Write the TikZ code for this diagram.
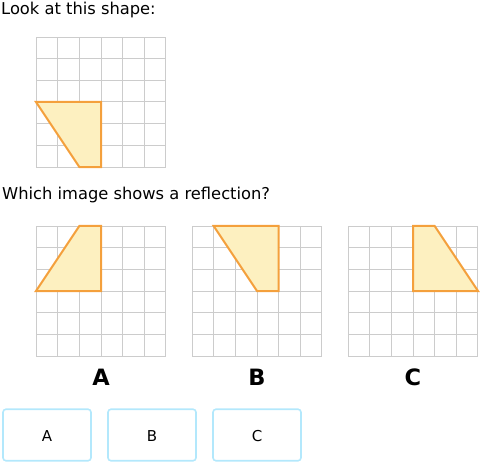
\documentclass[tikz,border=0pt]{standalone}
\usepackage{fontspec}
\setmainfont{DejaVu Sans}
\definecolor{gridc}{HTML}{CCCCCC}
\definecolor{shapeline}{HTML}{F4A03C}
\definecolor{shapefill}{HTML}{FDF0C0}
\definecolor{btnline}{HTML}{B3E8FC}
\tikzset{
  gridl/.style={draw=gridc, line width=1pt},
  shp/.style={draw=shapeline, fill=shapefill, line width=2pt, line join=miter},
  qtext/.style={anchor=base west, inner sep=0pt, font=\fontsize{16.3}{19}\selectfont},
  lbl/.style={anchor=base, inner sep=0pt, font=\fontsize{22.5}{26}\selectfont\bfseries},
  btn/.style={draw=btnline, line width=1.6pt, rounded corners=3pt, minimum width=88pt, minimum height=51.5pt, inner sep=0pt},
  btntext/.style={anchor=base, inner sep=0pt, font=\fontsize{15}{17}\selectfont}
}
\begin{document}
\begin{tikzpicture}[x=1pt,y=-1pt]
\useasboundingbox (0,0) rectangle (480,463);
\node[qtext] (q1) at (1,14) {Look at this shape:};
\node[qtext] (q2) at (2,199) {Which image shows a reflection?};
% original shape
\begin{scope}[shift={(36,167)}, x=21.667pt, y=21.667pt]
  \draw[gridl] (0,0) grid[step={(1,1)}] (6,6);
  \draw[shp] (0,3) -- (3,3) -- (3,0) -- (2,0) -- cycle;
\end{scope}
% A
\begin{scope}[shift={(36,356)}, x=21.667pt, y=21.667pt]
  \draw[gridl] (0,0) grid[step={(1,1)}] (6,6);
  \draw[shp] (0,3) -- (3,3) -- (3,6) -- (2,6) -- cycle;
\end{scope}
% B
\begin{scope}[shift={(192,356)}, x=21.667pt, y=21.667pt]
  \draw[gridl] (0,0) grid[step={(1,1)}] (6,6);
  \draw[shp] (1,6) -- (4,6) -- (4,3) -- (3,3) -- cycle;
\end{scope}
% C
\begin{scope}[shift={(348,356)}, x=21.667pt, y=21.667pt]
  \draw[gridl] (0,0) grid[step={(1,1)}] (6,6);
  \draw[shp] (3,6) -- (4,6) -- (6,3) -- (3,3) -- cycle;
\end{scope}
\node[lbl] (la) at (101,385) {A};
\node[lbl] (lb) at (257,385) {B};
\node[lbl] (lc) at (413,385) {C};
\node[btn] (ba) at (47,435) {};
\node[btn] (bb) at (152,435) {};
\node[btn] (bc) at (257,435) {};
\node[btntext] (ta) at (47,441) {A};
\node[btntext] (tb) at (152,441) {B};
\node[btntext] (tc) at (257,441) {C};
\end{tikzpicture}
\end{document}
